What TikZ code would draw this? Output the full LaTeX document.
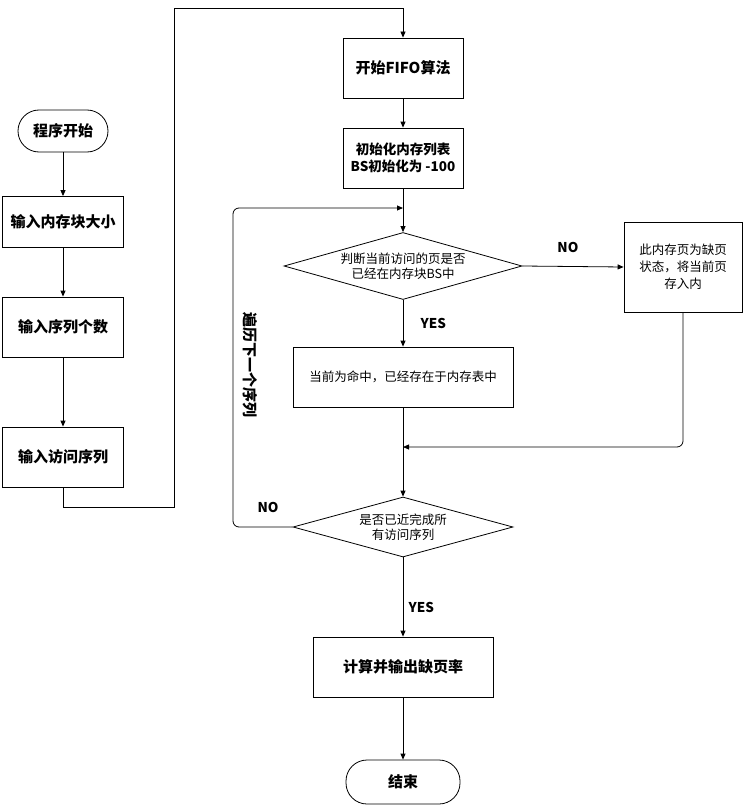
\documentclass[tikz,border=0pt]{standalone}
\usepackage{fontspec}
\setmainfont{Noto Sans CJK SC}
\usetikzlibrary{shapes.geometric,arrows.meta}
\begin{document}
\begin{tikzpicture}[x=1pt,y=-1pt,
  box/.style={draw,thick,minimum width=#1,inner sep=1pt,align=center,font=\bfseries\fontsize{15}{18}\selectfont},
  term/.style={draw,thick,rounded corners=21pt,align=center,font=\bfseries\fontsize{15}{18}\selectfont},
  dia/.style={draw,thick,diamond,aspect=3.6,inner sep=0pt,align=center,font=\fontsize{12.5}{15}\selectfont},
  arr/.style={thick,-{Triangle[length=6pt,width=5pt]}},
  lbl/.style={font=\bfseries\fontsize{13.5}{16}\selectfont}]
\useasboundingbox (0,0) rectangle (744,808);
\node[term,minimum width=90pt,minimum height=42pt] (s) at (63,131) {程序开始};
\node[box=121pt,minimum height=51pt] (a) at (63,222) {输入内存块大小};
\node[box=121pt,minimum height=60pt] (b) at (63,327) {输入序列个数};
\node[box=121pt,minimum height=60pt] (c) at (63,457) {输入访问序列};
\node[box=120pt,minimum height=60pt] (f) at (403,68) {开始FIFO算法};
\node[box=120pt,minimum height=60pt,font=\bfseries\fontsize{13.5}{17}\selectfont] (i) at (403,158) {初始化内存列表\\BS初始化为 -100};
\node[dia,minimum width=238pt,minimum height=67pt] (d1) at (403,266) {判断当前访问的页是否\\已经在内存块BS中};
\node[box=118pt,minimum height=90pt,font=\fontsize{12.5}{17}\selectfont] (m) at (683,267) {此内存页为缺页\\状态，将当前页\\存入内};
\node[box=220pt,minimum height=60pt,font=\fontsize{12.5}{15}\selectfont] (h) at (403,377) {当前为命中，已经存在于内存表中};
\node[dia,minimum width=220pt,minimum height=60pt] (d2) at (403,527) {是否已近完成所\\有访问序列};
\node[box=180pt,minimum height=60pt] (o) at (403,667) {计算并输出缺页率};
\node[term,minimum width=114pt,minimum height=44pt] (e) at (403,782) {结束};
\coordinate (j1) at (403,208);
\coordinate (j2) at (403,447);
\draw[arr] (s) -- (a);
\draw[arr] (a) -- (b);
\draw[arr] (b) -- (c);
\draw[arr] (c.south) -- (63,507) -- (174,507) -- (174,8) -- (403,8) -- (f.north);
\draw[arr] (f) -- (i);
\draw[arr] (i) -- (d1);
\draw[arr] (d1.east) -- node[lbl,above,pos=0.45,yshift=10pt]{NO} (m.west);
\draw[arr] (d1.south) -- node[lbl,right,xshift=14pt]{YES} (h.north);
\draw[arr] (h.south) -- (d2.north);
\draw[arr,rounded corners=6pt] (m.south) -- (683,447) -- (j2);
\draw[arr,rounded corners=6pt] (d2.west) -- (233,527) -- (233,208) -- (j1);
\node[lbl] at (268,507) {NO};
\node[lbl,rotate=-90,font=\bfseries\fontsize{15}{18}\selectfont] at (250,365) {遍历下一个序列};
\draw[arr] (d2.south) -- node[lbl,right,xshift=2pt,yshift=-10pt]{YES} (o.north);
\draw[arr] (o) -- (e);
\end{tikzpicture}
\end{document}
